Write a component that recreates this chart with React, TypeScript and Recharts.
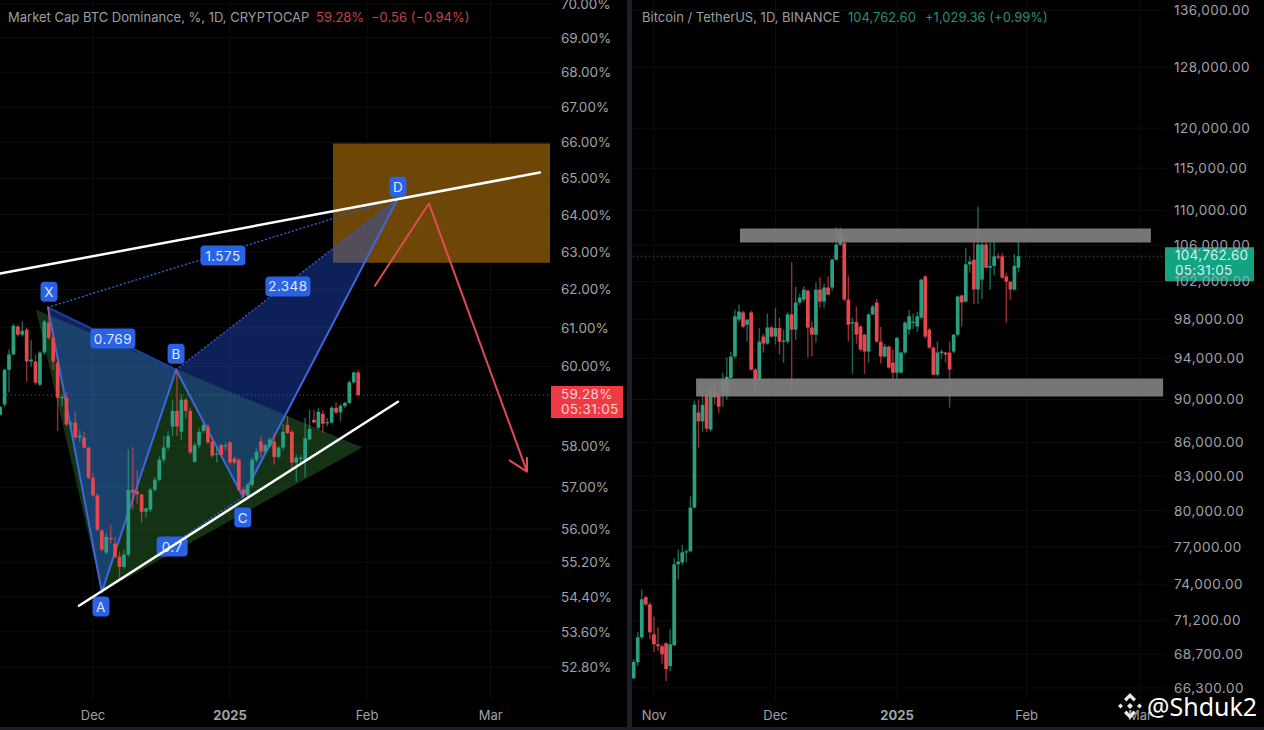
import React from "react";
import {
  Bar,
  CartesianGrid,
  ComposedChart,
  ReferenceLine,
  Scatter,
  XAxis,
  YAxis,
} from "recharts";

// BTC dominance, one candle per day, first candle is domFirstDay (days from Dec 1)
const domFirstDay = -21;
const domOpen = [
  58.78, 59.04, 59.92, 60.31, 61.03, 60.82, 60.95, 60.13, 60.13, 59.54, 60.36, 61.13, 60.74, 60.1,
  59.21, 59.21, 58.54, 58.59, 58.22, 58.22, 57.97, 57.23, 56.8, 55.96, 55.44, 55.78, 55.65, 55.34,
  55.1, 55.39, 56.94, 56.9, 56.82, 56.41, 56.46, 56.94, 57.18, 57.67, 57.97, 58.49, 58.88, 58.36,
  59.16, 58.88, 57.62, 58.03, 58.38, 58.49, 58.12, 57.79, 58.03, 58.0, 58.1, 57.7, 57.67, 56.94,
  56.8, 57.06, 57.67, 58.12, 57.87, 58.0, 58.12, 57.74, 57.97, 58.53, 58.36, 57.6, 57.7, 57.67,
  58.17, 58.66, 58.46, 58.81, 58.58, 58.59, 58.96, 58.84, 59.0, 59.08, 59.6, 59.85,
];
const domClose = [
  58.98, 59.92, 60.31, 61.05, 60.82, 60.92, 60.13, 60.18, 59.59, 60.36, 61.16, 60.74, 60.13, 59.21,
  59.23, 58.54, 58.57, 58.22, 58.27, 57.97, 57.23, 56.8, 55.98, 55.51, 55.81, 55.76, 55.34, 55.1,
  55.39, 56.94, 56.87, 56.83, 56.41, 56.49, 56.94, 57.18, 57.67, 57.97, 58.25, 58.88, 58.49, 59.16,
  58.88, 57.85, 58.03, 58.36, 58.53, 58.1, 57.77, 57.82, 57.79, 58.03, 57.6, 57.6, 56.94, 56.83,
  57.06, 57.67, 57.87, 57.87, 58.03, 58.17, 57.74, 57.97, 58.36, 58.33, 57.6, 57.72, 57.72, 58.2,
  58.43, 58.59, 58.86, 58.56, 58.6, 58.96, 58.84, 59.01, 59.08, 59.6, 59.85, 59.28,
];
const domHigh = [
  59.0, 59.95, 60.44, 61.1, 61.08, 61.16, 61.0, 60.69, 60.31, 60.4, 61.2, 61.53, 60.95, 60.26,
  59.3, 59.35, 58.62, 58.86, 58.4, 58.36, 57.97, 57.35, 56.85, 56.0, 55.9, 56.1, 55.81, 55.46,
  55.5, 57.92, 57.97, 57.4, 56.85, 56.5, 56.98, 57.25, 57.75, 58.25, 58.38, 59.16, 59.92, 59.3,
  59.2, 58.95, 58.1, 58.45, 58.58, 58.55, 58.25, 58.0, 58.05, 58.1, 58.13, 57.75, 57.7, 57.0,
  57.1, 57.72, 57.95, 58.25, 58.07, 58.22, 58.33, 58.0, 58.55, 58.75, 58.4, 57.8, 57.78, 58.71,
  58.91, 58.91, 58.95, 58.9, 58.7, 59.0, 59.1, 59.05, 59.12, 59.65, 59.88, 59.92,
];
const domLow = [
  58.76, 58.98, 59.35, 60.29, 60.77, 60.77, 59.62, 60.0, 59.54, 59.5, 60.3, 60.69, 59.92, 58.38,
  59.0, 58.5, 58.45, 58.2, 58.1, 57.95, 57.2, 56.77, 55.95, 55.47, 55.4, 55.65, 55.3, 54.85,
  55.05, 55.34, 56.46, 56.6, 56.15, 56.27, 56.4, 56.9, 57.15, 57.6, 57.9, 58.25, 58.25, 58.15,
  58.7, 57.8, 57.6, 57.95, 58.33, 58.05, 57.72, 57.6, 57.75, 57.9, 57.55, 57.55, 56.9, 56.75,
  56.75, 57.0, 57.6, 57.72, 57.8, 57.95, 57.55, 57.7, 57.9, 58.3, 57.45, 57.13, 57.6, 57.23,
  58.15, 58.57, 58.4, 58.33, 58.5, 58.55, 58.8, 58.62, 58.95, 59.05, 59.55, 59.25,
];

// BTC / USDT, same idea
const btcFirstDay = -35;
const btcOpen = [
  66990, 68130, 69960, 72990, 72440, 70180, 69440, 69300, 69520, 67850, 69370, 75580, 75740, 76550,
  76630, 80270, 88770, 87950, 90470, 87180, 90900, 90400, 90500, 90500, 92100, 94200, 97960, 98700,
  97430, 98700, 92910, 91930, 96220, 95500, 97150, 96220, 97100, 95700, 95700, 98500, 96930, 99750,
  100060, 101020, 97140, 96410, 101130, 99850, 101350, 101350, 104390, 106070, 106220, 100060,
  97560, 97700, 97240, 96410, 94700, 98500, 99750, 95700, 94200, 95200, 93600, 92590, 92610, 94600,
  96930, 97650, 97240, 98160, 102540, 96930, 95100, 92400, 94550, 94600, 94600, 94700, 96410,
  100500, 99850, 103870, 104390, 101130, 102200, 106070, 103500, 103700, 104750, 104750, 102540,
  101980, 101130, 103500,
];
const btcClose = [
  68150, 69960, 72830, 72440, 70330, 69440, 69300, 68720, 67630, 69440, 75580, 75800, 76550, 76630,
  80270, 89520, 87950, 89500, 87270, 90900, 90200, 89320, 91930, 92200, 94200, 98300, 98800, 97230,
  97960, 92910, 91930, 95700, 95500, 97150, 96220, 97100, 95700, 95800, 98500, 96930, 99750, 100280,
  101130, 97140, 96410, 101130, 99850, 101350, 100590, 104390, 106070, 107400, 100060, 97430,
  97700, 96410, 94900, 94700, 98500, 99320, 95700, 94200, 95200, 93110, 92600, 96080, 94600, 97650,
  98300, 97750, 98300, 102200, 96220, 95100, 92400, 94600, 94700, 94400, 92910, 96410, 100390,
  99750, 103870, 104170, 101130, 106070, 106070, 103500, 103700, 104750, 104650, 102420, 101980,
  101130, 103700, 104762.6,
];
const btcHigh = [
  68350, 70330, 73600, 73100, 72600, 71500, 70700, 69440, 69590, 70560, 76100, 76780, 77160, 76800,
  81220, 89900, 90000, 90500, 91000, 91400, 91800, 90600, 92600, 94100, 94700, 99000, 99550, 98900,
  98000, 98900, 93100, 97100, 96500, 98600, 97300, 99200, 98160, 96930, 98700, 104100, 101440,
  100700, 101500, 101130, 97800, 101900, 102430, 101770, 102540, 104500, 108000, 108000, 107200,
  102650, 98160, 99320, 97400, 96500, 98600, 99500, 100100, 97200, 95500, 95300, 94900, 96200,
  94700, 97800, 98960, 98600, 98800, 102300, 102700, 97100, 95200, 95700, 94900, 94700, 95700,
  96500, 100500, 100600, 105720, 104720, 106400, 110400, 106400, 106400, 106300, 106400, 105100,
  105100, 102960, 102000, 105000, 106400,
];
const btcLow = [
  66920, 67860, 69810, 72300, 69810, 68860, 68950, 68030, 66780, 67490, 69300, 74380, 75500, 75740,
  76550, 80200, 85530, 87000, 86950, 87000, 89500, 88700, 89340, 90000, 92000, 94000, 97700, 97100,
  95700, 92800, 90760, 91800, 94600, 95400, 96100, 95400, 94400, 93600, 95500, 90300, 95900, 99500,
  99800, 94100, 94200, 95600, 99200, 99200, 100500, 101000, 104280, 105900, 99900, 95700, 92480,
  95500, 94700, 92480, 93600, 98400, 95600, 93500, 94100, 93000, 91900, 91930, 92500, 94400, 96400,
  97000, 96700, 98000, 96000, 95000, 92300, 92200, 94000, 93600, 89240, 94500, 96200, 97240, 99750,
  102960, 99600, 99600, 100100, 103400, 101130, 102650, 104400, 102300, 97650, 100060, 101000,
  103000,
];

const domTicks = [70, 69, 68, 67, 66, 65, 64, 63, 62, 61, 60, 58, 57, 56, 55.2, 54.4, 53.6, 52.8];
const btcTicks = [
  136000, 128000, 120000, 115000, 110000, 106000, 102000, 98000, 94000, 90000, 86000, 83000, 80000,
  77000, 74000, 71200, 68700, 66300,
];
const domMonthDays = [0, 31, 62, 90];
const domMonthLabels = ["Dec", "2025", "Feb", "Mar"];
const btcMonthDays = [-30, 0, 30, 62, 90];
const btcMonthLabels = ["Nov", "Dec", "2025", "Feb", "Mar"];

// harmonic pattern on the dominance chart
const pointX = { day: -10.2, value: 61.53 };
const pointA = { day: 2, value: 54.52 };
const pointB = { day: 18.8, value: 59.92 };
const pointC = { day: 33.9, value: 56.77 };
const pointD = { day: 69, value: 64.45 };
const patternLabels = [
  { day: -9.95, value: 61.94, text: "X" },
  { day: 1.8, value: 54.18, text: "A" },
  { day: 18.8, value: 60.33, text: "B" },
  { day: 33.9, value: 56.27, text: "C" },
  { day: 69, value: 64.77, text: "D" },
  { day: 4.5, value: 60.72, text: "0.769" },
  { day: 29.4, value: 62.9, text: "1.575" },
  { day: 44.1, value: 62.08, text: "2.348" },
  { day: 17.9, value: 55.58, text: "0.7" },
];
const greenWedge = [
  { day: -12.9, value: 61.47 },
  pointA,
  { day: 60.9, value: 57.97 },
];
const targetBox = [
  { day: 54.3, value: 65.97 },
  { day: 103.4, value: 65.97 },
  { day: 103.4, value: 62.71 },
  { day: 54.3, value: 62.71 },
];
const upperTrend = [
  { day: -21, value: 62.42 },
  { day: 101.1, value: 65.16 },
];
const lowerTrend = [
  { day: -3.17, value: 54.2 },
  { day: 69, value: 59.11 },
];
const redArrow = [
  { day: 63.8, value: 62.1 },
  { day: 76, value: 64.31 },
  { day: 98.2, value: 57.38 },
  { day: 94.3, value: 57.65 },
  { day: 98.2, value: 57.38 },
  { day: 98.2, value: 57.72 },
];

// grey support / resistance zones on the BTC chart
const upperZone = [
  { day: -8.77, value: 107880 },
  { day: 92.7, value: 107880 },
  { day: 92.7, value: 106290 },
  { day: -8.77, value: 106290 },
];
const lowerZone = [
  { day: -19.6, value: 92030 },
  { day: 95.7, value: 92030 },
  { day: 95.7, value: 90290 },
  { day: -19.6, value: 90290 },
];

const UP = "#2b9e80";
const DOWN = "#e5474f";
const AXIS_TEXT = "#a0a2a8";
const GRID = "#0e0e11";
const FONT = "Inter, sans-serif";
const BEHIND_CANDLES = 100;

const buildCandles = (
  firstDay: number,
  open: number[],
  close: number[],
  high: number[],
  low: number[],
) =>
  open.map((o, i) => ({
    day: firstDay + i,
    range: [low[i], high[i]],
    open: o,
    close: close[i],
    high: high[i],
    low: low[i],
  }));

const domCandles = buildCandles(domFirstDay, domOpen, domClose, domHigh, domLow);
const btcCandles = buildCandles(btcFirstDay, btcOpen, btcClose, btcHigh, btcLow);

const BODY_WIDTH = 3.7;

// axis is log, so open and close sit on a log interpolation of the wick
const Candle = (props: any) => {
  const { x, y, width, height, payload } = props;
  const { open, close, high, low } = payload;
  const span = Math.log(high) - Math.log(low) || 1;
  const toY = (v: number) => y + (height * (Math.log(high) - Math.log(v))) / span;
  const top = toY(Math.max(open, close));
  const bottom = toY(Math.min(open, close));
  const color = close >= open ? UP : DOWN;
  const mid = x + width / 2;
  return (
    <g>
      <rect x={mid - 0.7} y={y} width={1.4} height={height} fill={color} opacity={0.65} />
      <rect
        x={mid - BODY_WIDTH / 2}
        y={top}
        width={BODY_WIDTH}
        height={Math.max(bottom - top, 1.2)}
        fill={color}
      />
    </g>
  );
};

const noDot = () => <g />;

const polygonSeries = (
  key: string,
  points: any[],
  fill: string,
  opacity: number,
  zIndex?: number,
) => (
  <Scatter
    key={key}
    data={points}
    dataKey="value"
    isAnimationActive={false}
    shape={noDot}
    zIndex={zIndex}
    line={(p: any) => (
      <polygon
        points={p.points.map((q: any) => `${q.x},${q.y}`).join(" ")}
        fill={fill}
        fillOpacity={opacity}
        stroke="none"
      />
    )}
  />
);

const lineSeries = (
  key: string,
  points: any[],
  stroke: string,
  width: number,
  dash?: string,
  zIndex?: number,
) => (
  <Scatter
    key={key}
    data={points}
    dataKey="value"
    isAnimationActive={false}
    shape={noDot}
    zIndex={zIndex}
    line={(p: any) => (
      <polyline
        points={p.points.map((q: any) => `${q.x},${q.y}`).join(" ")}
        fill="none"
        stroke={stroke}
        strokeWidth={width}
        strokeDasharray={dash}
        strokeLinecap="round"
        strokeLinejoin="round"
      />
    )}
  />
);

const PatternLabel = (props: any) => {
  const { cx, cy, payload } = props;
  const w = 10 + payload.text.length * 7;
  return (
    <g>
      <rect x={cx - w / 2} y={cy - 10} width={w} height={20} rx={4} fill="#2a62e6" />
      <text
        x={cx}
        y={cy + 5}
        textAnchor="middle"
        fontFamily={FONT}
        fontSize={13.5}
        letterSpacing={0.4}
        fill="#dfe8fb"
      >
        {payload.text}
      </text>
    </g>
  );
};

const priceTag = (w: number, h: number, fill: string, color: string, main: string, sub: string) => (props: any) => {
  const { cx, cy } = props;
  return (
    <g fontFamily={FONT} fontSize={13.5} fill={color} letterSpacing={0.3}>
      <rect x={cx - 1} y={cy - 9} width={w} height={h} fill={fill} />
      <text x={cx + 9} y={cy + 4}>
        {main}
      </text>
      <text x={cx + 9} y={cy + 19}>
        {sub}
      </text>
    </g>
  );
};

const monthTick = (days: number[], labels: string[]) => (props: any) => {
  const label = labels[days.indexOf(props.payload.value)];
  return (
    <text
      x={props.x}
      y={props.y + 18}
      textAnchor="middle"
      fontFamily={FONT}
      fontSize={13}
      fontWeight={label === "2025" ? 700 : 400}
      fill={AXIS_TEXT}
    >
      {label}
    </text>
  );
};

const domTickStyle = { fill: AXIS_TEXT, fontSize: 13.5, fontFamily: FONT };
const btcTickStyle = { fill: AXIS_TEXT, fontSize: 13.5, fontFamily: FONT, letterSpacing: 0.5 };

const DominanceChart = () => (
  <ComposedChart
    width={628}
    height={730}
    data={domCandles}
    margin={{ top: 0, right: 0, bottom: 0, left: 0 }}
  >
    <CartesianGrid stroke={GRID} syncWithTicks />
    <XAxis
      dataKey="day"
      type="number"
      domain={[-21.04, 103.85]}
      ticks={domMonthDays}
      height={30}
      axisLine={false}
      tickLine={false}
      tickSize={0}
      interval={0}
      tick={monthTick(domMonthDays, domMonthLabels)}
    />
    <YAxis
      orientation="right"
      scale="log"
      domain={[52.07, 70.12]}
      ticks={domTicks}
      width={76}
      axisLine={false}
      tickLine={false}
      tickSize={0}
      tickMargin={9}
      interval={0}
      tick={domTickStyle}
      tickFormatter={(v: number) => `${v.toFixed(2)}%`}
    />
    <ReferenceLine y={59.28} stroke="#b0404a" strokeDasharray="1 3" />
    {polygonSeries("box", targetBox, "#6e4706", 1, BEHIND_CANDLES)}
    {polygonSeries("wedge", greenWedge, "#2f7a2f", 0.42, BEHIND_CANDLES)}
    {polygonSeries("xab", [pointX, pointA, pointB], "#2458f0", 0.4, BEHIND_CANDLES)}
    {polygonSeries("bcd", [pointB, pointC, pointD], "#2458f0", 0.36, BEHIND_CANDLES)}
    {lineSeries("xb", [pointX, pointB], "#1f3f9c", 2, undefined, BEHIND_CANDLES)}
    {lineSeries("xd", [pointX, pointD], "#3355b8", 1.5, "1 3", BEHIND_CANDLES)}
    {lineSeries("bd", [pointB, pointD], "#3355b8", 1.5, "1 3", BEHIND_CANDLES)}
    {lineSeries("ac", [pointA, pointC], "#3355b8", 1.5, "1 3", BEHIND_CANDLES)}
    {lineSeries("legs", [pointX, pointA, pointB, pointC, pointD], "#3f66dc", 2, undefined, BEHIND_CANDLES)}
    <Bar dataKey="range" barSize={3} isAnimationActive={false} shape={Candle} />
    <Scatter
      data={patternLabels}
      dataKey="value"
      isAnimationActive={false}
      shape={PatternLabel}
    />
    {lineSeries("upper", upperTrend, "#ffffff", 2.5)}
    {lineSeries("lower", lowerTrend, "#ffffff", 2.5)}
    {lineSeries("arrow", redArrow, "#e04b55", 2)}
    <Scatter
      data={[{ day: 103.85, value: 59.28 }]}
      dataKey="value"
      isAnimationActive={false}
      shape={priceTag(72, 32, "#ef3a44", "#f8d4d6", "59.28%", "05:31:05")}
    />
  </ComposedChart>
);

const BitcoinChart = () => (
  <ComposedChart
    width={632}
    height={730}
    data={btcCandles}
    margin={{ top: 0, right: 0, bottom: 0, left: 0 }}
  >
    <CartesianGrid stroke={GRID} syncWithTicks />
    <XAxis
      dataKey="day"
      type="number"
      domain={[-35.43, 96.42]}
      ticks={btcMonthDays}
      height={30}
      axisLine={false}
      tickLine={false}
      tickSize={0}
      interval={0}
      tick={monthTick(btcMonthDays, btcMonthLabels)}
    />
    <YAxis
      orientation="right"
      scale="log"
      domain={[65460, 137450]}
      ticks={btcTicks}
      width={98}
      axisLine={false}
      tickLine={false}
      tickSize={0}
      tickMargin={8}
      interval={0}
      tick={btcTickStyle}
      tickFormatter={(v: number) =>
        v.toLocaleString("en-US", { minimumFractionDigits: 2, maximumFractionDigits: 2 })
      }
    />
    <ReferenceLine y={104762.6} stroke="#2b8f75" strokeDasharray="1 3" />
    <Bar dataKey="range" barSize={3} isAnimationActive={false} shape={Candle} />
    {polygonSeries("upperZone", upperZone, "#808080", 0.92)}
    {polygonSeries("lowerZone", lowerZone, "#808080", 0.92)}
    <Scatter
      data={[{ day: 96.42, value: 104762.6 }]}
      dataKey="value"
      isAnimationActive={false}
      shape={priceTag(89, 34, "#12a383", "#d8f4ec", "104,762.60", "05:31:05")}
    />
  </ComposedChart>
);

const headerStyle: React.CSSProperties = {
  position: "absolute",
  top: 9,
  fontFamily: FONT,
  fontSize: 13,
  lineHeight: "16px",
  whiteSpace: "nowrap",
};

const Watermark = () => (
  <div
    style={{
      position: "absolute",
      left: 1116,
      top: 689,
      display: "flex",
      alignItems: "center",
      color: "#ffffff",
      fontFamily: "'Noto Sans', sans-serif",
      fontSize: 25,
      lineHeight: "34px",
    }}
  >
    <svg width={28} height={28} viewBox="0 0 28 28" style={{ marginRight: 3 }}>
      <g fill="#e8e8e8">
        <path d="M14 1 L20 7 L17.6 9.4 L14 5.8 L10.4 9.4 L8 7 Z" />
        <path d="M14 27 L20 21 L17.6 18.6 L14 22.2 L10.4 18.6 L8 21 Z" />
        <path d="M14 11 L17 14 L14 17 L11 14 Z" />
        <path d="M4.5 11.5 L7 14 L4.5 16.5 L2 14 Z" />
        <path d="M23.5 11.5 L26 14 L23.5 16.5 L21 14 Z" />
      </g>
    </svg>
    @Shduk2
  </div>
);

export default function App() {
  return (
    <div
      style={{
        position: "fixed",
        left: 0,
        top: 0,
        width: 1264,
        height: 730,
        background: "#1c1f27",
        overflow: "hidden",
      }}
    >
      <div style={{ position: "absolute", left: 0, top: 0, width: 627, height: 727, background: "#000", overflow: "hidden" }}>
        <DominanceChart />
      </div>
      <div style={{ position: "absolute", left: 632, top: 0, width: 632, height: 727, background: "#000", overflow: "hidden" }}>
        <BitcoinChart />
      </div>
      <div style={{ ...headerStyle, left: 8, color: "#9c9ea4" }}>
        Market Cap BTC Dominance, %, 1D, CRYPTOCAP
      </div>
      <div style={{ ...headerStyle, left: 316, color: "#c8404a" }}>59.28%</div>
      <div style={{ ...headerStyle, left: 371, color: "#c8404a" }}>−0.56 (−0.94%)</div>
      <div style={{ ...headerStyle, left: 642, color: "#9c9ea4" }}>
        Bitcoin / TetherUS, 1D, BINANCE
      </div>
      <div style={{ ...headerStyle, left: 848, color: "#2a8f76" }}>104,762.60</div>
      <div style={{ ...headerStyle, left: 925, color: "#2a8f76" }}>+1,029.36 (+0.99%)</div>
      <Watermark />
    </div>
  );
}
